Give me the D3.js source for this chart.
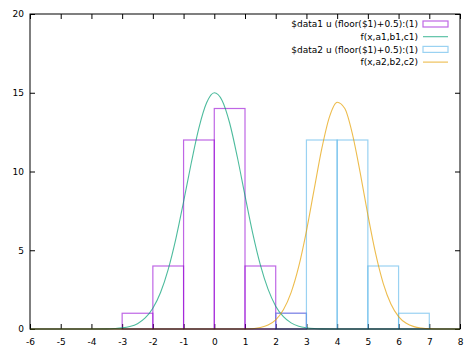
<!DOCTYPE html>
<html>
<head>
<meta charset="utf-8">
<script src="https://cdn.jsdelivr.net/npm/d3@7"></script>
<style>
  body { margin: 0; background: #fff; }
  text { font-family: "DejaVu Sans", sans-serif; font-size: 9px; fill: #000; }
</style>
</head>
<body>
<div id="chart"></div>
<script>
// histogram bins (centre of bin, count)
const bins1 = [-2.5, -1.5, -0.5, 0.5, 1.5, 2.5];
const counts1 = [1, 4, 12, 14, 4, 1];
const bins2 = [2.5, 3.5, 4.5, 5.5, 6.5];
const counts2 = [1, 12, 12, 4, 1];

// fitted curves
const fx1 = [-6, -4, -3.5, -3.25, -3, -2.75, -2.5, -2.25, -2, -1.75, -1.5, -1.25, -1, -0.75, -0.5, -0.25,
             0, 0.25, 0.5, 0.75, 1, 1.25, 1.5, 1.75, 2, 2.25, 2.5, 2.75, 3, 3.25, 3.5, 4, 8];
const fy1 = [0, 0, 0.01, 0.03, 0.07, 0.16, 0.34, 0.70, 1.32, 2.32, 3.79, 5.74, 8.08, 10.54, 12.77, 14.36,
             15.0, 14.53, 13.08, 10.92, 8.47, 6.09, 4.07, 2.53, 1.45, 0.78, 0.39, 0.18, 0.08, 0.03, 0.01, 0, 0];
const fx2 = [-6, 1, 1.5, 1.75, 2, 2.25, 2.5, 2.75, 3, 3.25, 3.5, 3.75, 4, 4.25, 4.5, 4.75,
             5, 5.25, 5.5, 5.75, 6, 6.25, 6.5, 6.75, 7, 7.5, 8];
const fy2 = [0, 0, 0.10, 0.25, 0.58, 1.22, 2.31, 3.97, 6.22, 8.85, 11.45, 13.47, 14.40, 14.00, 12.36, 9.93,
             7.25, 4.81, 2.90, 1.59, 0.79, 0.36, 0.15, 0.06, 0.02, 0, 0];

const xTicks = [-6, -5, -4, -3, -2, -1, 0, 1, 2, 3, 4, 5, 6, 7, 8];
const yTicks = [0, 5, 10, 15, 20];

const legendLabels = ["$data1 u (floor($1)+0.5):(1)", "f(x,a1,b1,c1)", "$data2 u (floor($1)+0.5):(1)", "f(x,a2,b2,c2)"];
const colors = ["#9400d3", "#009e73", "#56b4e9", "#e69f00"];

const width = 474, height = 355;
const margin = {left: 30, right: 14, top: 14, bottom: 26};

const x = d3.scaleLinear().domain([-6, 8]).range([margin.left, width - margin.right]);
const y = d3.scaleLinear().domain([0, 20]).range([height - margin.bottom, margin.top]);

const svg = d3.select("#chart").append("svg")
  .attr("width", width)
  .attr("height", height);

svg.append("rect").attr("width", width).attr("height", height).attr("fill", "#fff");

// axes (ticks point inward, mirrored on top/right)
svg.append("g")
  .attr("transform", `translate(0,${y(0)})`)
  .call(d3.axisBottom(x).tickValues(xTicks).tickSize(-5).tickPadding(10).tickFormat(d => String(d)))
  .call(g => g.select(".domain").remove());
svg.append("g")
  .attr("transform", `translate(0,${y(20)})`)
  .call(d3.axisTop(x).tickValues(xTicks).tickSize(-5).tickFormat(""))
  .call(g => g.select(".domain").remove());
svg.append("g")
  .attr("transform", `translate(${x(-6)},0)`)
  .call(d3.axisLeft(y).tickValues(yTicks).tickSize(-5).tickPadding(6).tickFormat(d => String(d)))
  .call(g => g.select(".domain").remove());
svg.append("g")
  .attr("transform", `translate(${x(8)},0)`)
  .call(d3.axisRight(y).tickValues(yTicks).tickSize(-5).tickFormat(""))
  .call(g => g.select(".domain").remove());
svg.selectAll(".tick text").attr("font-size", null).attr("font-family", null);
svg.selectAll(".tick line").attr("stroke", "#000");

// boxes
function drawBoxes(bins, counts, color) {
  svg.append("g").selectAll("rect")
    .data(bins.map((b, i) => ({c: b, n: counts[i]})))
    .enter().append("rect")
      .attr("x", d => x(d.c - 0.5))
      .attr("y", d => y(d.n))
      .attr("width", d => x(d.c + 0.5) - x(d.c - 0.5))
      .attr("height", d => y(0) - y(d.n))
      .attr("fill", "none")
      .attr("stroke", color)
      .attr("stroke-opacity", 0.6)
      .attr("stroke-width", 1.2);
}

const line = d3.line()
  .x(d => x(d[0]))
  .y(d => y(d[1]))
  .curve(d3.curveMonotoneX);

function drawCurve(xs, ys, color) {
  svg.append("path")
    .datum(xs.map((v, i) => [v, ys[i]]))
    .attr("d", line)
    .attr("fill", "none")
    .attr("stroke", color)
    .attr("stroke-opacity", 0.7)
    .attr("stroke-width", 1.1);
}

drawBoxes(bins1, counts1, colors[0]);
drawCurve(fx1, fy1, colors[1]);
drawBoxes(bins2, counts2, colors[2]);
drawCurve(fx2, fy2, colors[3]);

// border
svg.append("rect")
  .attr("x", x(-6)).attr("y", y(20))
  .attr("width", x(8) - x(-6)).attr("height", y(0) - y(20))
  .attr("fill", "none").attr("stroke", "#000").attr("stroke-width", 1);

// legend
const legend = svg.append("g");
legendLabels.forEach((lab, i) => {
  const ly = 24 + i * 12.7;
  legend.append("text")
    .attr("x", 418).attr("y", ly).attr("dy", "0.35em")
    .attr("text-anchor", "end")
    .text(lab);
  if (i % 2 === 0) {
    legend.append("rect")
      .attr("x", 423).attr("y", ly - 3).attr("width", 25).attr("height", 6)
      .attr("fill", "none").attr("stroke", colors[i])
      .attr("stroke-opacity", 0.6).attr("stroke-width", 1.2);
  } else {
    legend.append("line")
      .attr("x1", 423).attr("x2", 448).attr("y1", ly).attr("y2", ly)
      .attr("stroke", colors[i]).attr("stroke-opacity", 0.7).attr("stroke-width", 1.1);
  }
});
</script>
</body>
</html>
